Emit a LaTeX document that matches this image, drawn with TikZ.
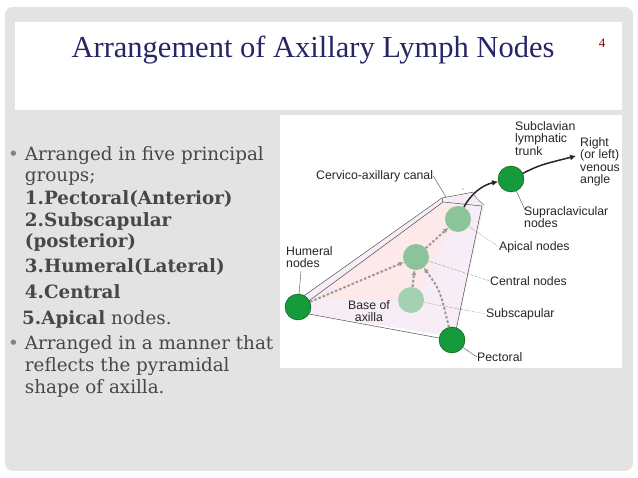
\documentclass[tikz,border=0pt]{standalone}
\usepackage{fontspec}
\setmainfont{DejaVu Serif}
\newfontfamily\lab{Liberation Sans}
\newfontfamily\ttl{Liberation Serif}
\usetikzlibrary{arrows.meta}
\definecolor{ng}{HTML}{159A3C}
\definecolor{lg}{HTML}{8CC49A}
\begin{document}
\begin{tikzpicture}[x=1pt,y=-1pt,
 lbl/.style={font=\lab\fontsize{12.3}{12.5}\selectfont,text=black!85,align=left,inner sep=0},
 gn/.style={circle,minimum size=26pt,inner sep=0,fill=ng,draw=green!30!black,line width=0.4pt},
 ln/.style={circle,minimum size=26pt,inner sep=0,fill=lg,draw=none},
 dar/.style={gray!80,line width=2pt,dash pattern=on 2.5pt off 2pt,-{Latex[length=5pt,width=5pt]}},
 ptr/.style={black!70,line width=0.4pt},
 dptr/.style={black!70,line width=0.4pt,densely dotted},
 bt/.style={font=\fontsize{18.3}{20}\selectfont,text=black!72,anchor=base west,inner sep=0}]
\useasboundingbox (0,0) rectangle (638,478);
\fill[white] (0,0) rectangle (638,478);
\fill[black!11,rounded corners=8pt] (5,7) rectangle (633,471);
\fill[white] (15,22) rectangle (622,110);
\fill[white] (280,115) rectangle (622,368);
\node[font=\ttl\fontsize{30.5}{32}\selectfont,text=blue!30!black!85,anchor=base] (title) at (313,58) {Arrangement of Axillary Lymph Nodes};
\node[font=\ttl\fontsize{13}{14}\selectfont,text=red!50!black,anchor=base] (num) at (602,48) {4};
% bullets
\node[bt] (b1) at (8,161) {\textcolor{gray}{\textbullet}\hspace{6pt}Arranged in five principal};
\node[bt] (b2) at (8,182) {\hphantom{\textbullet\hspace{6pt}}groups;};
\node[bt] (b3) at (8,205) {\hphantom{\textbullet\hspace{6pt}}\textbf{1.Pectoral(Anterior)}};
\node[bt] (b4) at (8,227) {\hphantom{\textbullet\hspace{6pt}}\textbf{2.Subscapular}};
\node[bt] (b5) at (8,248) {\hphantom{\textbullet\hspace{6pt}}\textbf{(posterior)}};
\node[bt] (b6) at (8,273) {\hphantom{\textbullet\hspace{6pt}}\textbf{3.Humeral(Lateral)}};
\node[bt] (b7) at (8,299) {\hphantom{\textbullet\hspace{6pt}}\textbf{4.Central}};
\node[bt] (b8) at (8,325) {\hspace{14pt}\textbf{5.Apical} nodes.};
\node[bt] (b9) at (8,350) {\textcolor{gray}{\textbullet}\hspace{6pt}Arranged in a manner that};
\node[bt] (b10) at (8,372) {\hphantom{\textbullet\hspace{6pt}}reflects the pyramidal};
\node[bt] (b11) at (8,394) {\hphantom{\textbullet\hspace{6pt}}shape of axilla.};
% pyramid
\fill[violet!7] (298,300) -- (443,199) -- (474,193) -- (484,205) -- (455,337) -- (298,312) -- cycle;
\fill[violet!20!red!9] (312,300) -- (440,205) -- (462,205) -- (415,300) -- cycle;
\draw[black!70,line width=0.5pt] (298,300) -- (442,198) -- (474,192);
\draw[black!70,line width=0.5pt] (302,306) -- (443,202) -- (482,206) -- (455,335);
\draw[black!70,line width=0.5pt] (298,312) -- (450,340);
\draw[black!70,line width=0.5pt] (443,202) -- (442,198);
\draw[black!60,line width=0.4pt] (474,195) .. controls (478,200) .. (484,205);
% nodes
\node[gn] (hum) at (298,307) {};
\node[gn] (pec) at (452,340) {};
\node[ln,fill=lg!80] (sub) at (411,300) {};
\node[ln] (cen) at (416,257) {};
\node[ln] (api) at (458,219) {};
\node[gn] (sup) at (511,179) {};
% dotted arrows
\draw[dar] (hum) -- (cen);
\draw[dar] (sub) -- (cen);
\draw[dar] (pec) .. controls (440,290) .. (cen);
\draw[dar] (cen) -- (api);
\draw[-{Latex[length=6pt,width=6pt]},line width=1.5pt,black!85] (api) .. controls (470,195) and (482,185) .. (sup);
\draw[-{Latex[length=6pt,width=6pt]},line width=1.5pt,black!85] (sup) .. controls (540,165) .. (576,156);
% labels
\node[lbl,anchor=north west] (tsub) at (515,121) {Subclavian\\lymphatic\\trunk};
\node[lbl,anchor=north west] (tright) at (580,137) {Right\\(or left)\\venous\\angle};
\node[lbl,anchor=west] (tcan) at (316,176) {Cervico-axillary canal};
\node[lbl,anchor=north west] (tsupl) at (524,206) {Supraclavicular\\nodes};
\node[lbl,anchor=west] (tapi) at (499,247) {Apical nodes};
\node[lbl,anchor=west] (tcen) at (490,281) {Central nodes};
\node[lbl,anchor=north west] (thum) at (286,246) {Humeral\\nodes};
\node[lbl,anchor=north,align=center] (tbase) at (369,300) {Base of\\axilla};
\node[lbl,anchor=west] (tsubs) at (486,314) {Subscapular};
\node[lbl,anchor=west] (tpec) at (477,357) {Pectoral};
\draw[ptr] (tcan.east) -- (446,197);
\draw[ptr] (sup) -- (525,210);
\draw[dptr] (api) -- (tapi.west);
\draw[dptr] (cen) -- (tcen.west);
\draw[dptr] (sub) -- (tsubs.west);
\draw[ptr] (301,271) -- (hum);
\draw[ptr] (pec) -- (tpec.west);
\fill[black!60] (463,189) circle (0.6pt);
\end{tikzpicture}
\end{document}
